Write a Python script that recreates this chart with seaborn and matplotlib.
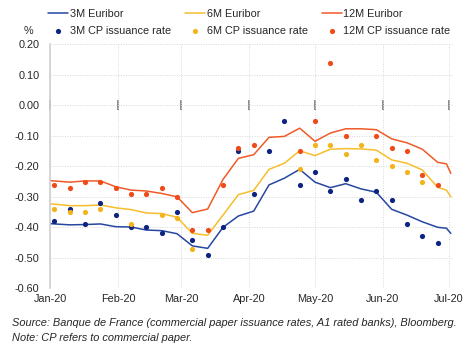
import matplotlib
matplotlib.use("Agg")
import matplotlib.pyplot as plt
import matplotlib.dates as mdates
import numpy as np
import pandas as pd
import seaborn as sns

# ---------------- data ----------------
cp_dates = ["2020-01-03", "2020-01-10", "2020-01-17", "2020-01-24", "2020-01-31",
            "2020-02-07", "2020-02-14", "2020-02-21", "2020-02-28", "2020-03-06",
            "2020-03-13", "2020-03-20", "2020-03-27", "2020-04-03", "2020-04-10",
            "2020-04-17", "2020-04-24", "2020-05-01", "2020-05-08", "2020-05-15",
            "2020-05-22", "2020-05-29", "2020-06-05", "2020-06-12", "2020-06-19",
            "2020-06-26"]

line_dates = ["2020-01-01", "2020-01-10", "2020-01-17", "2020-01-24", "2020-01-31",
              "2020-02-07", "2020-02-14", "2020-02-21", "2020-02-28", "2020-03-06",
              "2020-03-13", "2020-03-20", "2020-03-27", "2020-04-03", "2020-04-10",
              "2020-04-17", "2020-04-24", "2020-05-01", "2020-05-08", "2020-05-15",
              "2020-05-22", "2020-05-29", "2020-06-05", "2020-06-12", "2020-06-19",
              "2020-06-26", "2020-06-30", "2020-07-02"]

euribor_3m = [-0.388, -0.392, -0.391, -0.389, -0.398, -0.399, -0.409, -0.411, -0.421, -0.461,
              -0.469, -0.400, -0.363, -0.347, -0.261, -0.239, -0.210, -0.252, -0.270, -0.257,
              -0.274, -0.285, -0.341, -0.360, -0.382, -0.400, -0.403, -0.420]
euribor_6m = [-0.323, -0.329, -0.329, -0.327, -0.336, -0.342, -0.353, -0.355, -0.367, -0.420,
              -0.426, -0.360, -0.293, -0.279, -0.210, -0.190, -0.149, -0.165, -0.144, -0.142,
              -0.143, -0.147, -0.179, -0.190, -0.212, -0.269, -0.278, -0.300]
euribor_12m = [-0.247, -0.252, -0.248, -0.248, -0.267, -0.278, -0.281, -0.289, -0.300, -0.352,
               -0.340, -0.243, -0.174, -0.162, -0.105, -0.102, -0.075, -0.118, -0.091, -0.077,
               -0.077, -0.080, -0.110, -0.123, -0.144, -0.187, -0.192, -0.223]

nan = np.nan
cp_3m = [-0.38, -0.34, -0.39, -0.32, -0.36, -0.40, -0.40, -0.42, -0.35, -0.44,
         -0.49, -0.40, -0.15, -0.29, -0.15, -0.05, -0.26, -0.22, -0.28, -0.24,
         -0.31, -0.28, -0.31, -0.39, -0.43, -0.45]
cp_6m = [-0.34, -0.35, -0.35, -0.34, nan, -0.39, nan, -0.36, -0.37, -0.47,
         nan, nan, nan, nan, nan, nan, -0.21, -0.13, -0.13, -0.16,
         -0.13, -0.18, -0.20, -0.22, -0.25, nan]
cp_12m = [-0.26, -0.27, -0.25, -0.25, -0.27, -0.29, -0.29, -0.27, -0.30, -0.41,
          -0.41, -0.26, -0.14, -0.13, nan, nan, -0.15, -0.05, 0.14, -0.10,
          nan, -0.10, -0.14, -0.15, -0.23, -0.26]

month_ticks = ["2020-01-01", "2020-02-01", "2020-03-01", "2020-04-01",
               "2020-05-01", "2020-06-01", "2020-07-01"]
month_labels = ["Jan-20", "Feb-20", "Mar-20", "Apr-20", "May-20", "Jun-20", "Jul-20"]
y_ticks = [0.20, 0.10, 0.00, -0.10, -0.20, -0.30, -0.40, -0.50, -0.60]

line_names = ["3M Euribor", "6M Euribor", "12M Euribor"]
dot_names = ["3M CP issuance rate", "6M CP issuance rate", "12M CP issuance rate"]
line_colors = ["#2747a0", "#f7bd2c", "#f05a28"]
dot_colors = ["#0d2382", "#f2b31b", "#f04a17"]

# ---------------- style ----------------
sns.set_style("white")
plt.rcParams["font.family"] = ["Liberation Sans", "DejaVu Sans"]
FS = 7.8

fig = plt.figure(figsize=(4.74, 3.48), dpi=100)
ax = fig.add_axes([50 / 474, 1 - 288.3 / 348, (453 - 50) / 474, (288.3 - 44.3) / 348])

ld = pd.to_datetime(line_dates)
cd = pd.to_datetime(cp_dates)

for vals, name, col in zip([euribor_3m, euribor_6m, euribor_12m], line_names, line_colors):
    df = pd.DataFrame({"date": ld, "value": vals})
    sns.lineplot(data=df, x="date", y="value", ax=ax, color=col, linewidth=1.1,
                 label=name, zorder=2)

for vals, name, col in zip([cp_3m, cp_6m, cp_12m], dot_names, dot_colors):
    df = pd.DataFrame({"date": cd, "value": vals}).dropna()
    sns.scatterplot(data=df, x="date", y="value", ax=ax, color=col, s=14,
                    linewidth=0, label=name, zorder=3)

handles, labels = ax.get_legend_handles_labels()
ax.get_legend().remove()
hmap = dict(zip(labels, handles))
order = [line_names[0], dot_names[0], line_names[1], dot_names[1], line_names[2], dot_names[2]]

leg = fig.legend([hmap[k] for k in order], order, ncol=3, loc="upper left",
                 bbox_to_anchor=(48 / 474, 1 - 9 / 348), frameon=False, fontsize=FS,
                 handlelength=1.85, handletextpad=0.15, columnspacing=1.3,
                 labelspacing=0.62, borderpad=0, borderaxespad=0)

# axes limits & ticks
xt = pd.to_datetime(month_ticks)
ax.set_xlim(pd.Timestamp("2020-01-01"), pd.Timestamp("2020-07-03"))
ax.set_ylim(-0.60, 0.20)
ax.set_xticks(xt)
ax.set_xticklabels(month_labels, fontsize=FS)
ax.set_yticks(y_ticks)
ax.set_yticklabels([f"{v:.2f}" for v in y_ticks], fontsize=FS)
ax.tick_params(axis="both", length=0)
ax.tick_params(axis="y", pad=7.5)
ax.tick_params(axis="x", pad=4)
ax.set_xlabel("")
ax.set_ylabel("")

ax.grid(True, linestyle=(0, (1, 1.5)), color="#d8d8d8", linewidth=0.7)
for s in ["top", "right", "bottom"]:
    ax.spines[s].set_visible(False)
ax.spines["left"].set_color("#d0d0d0")
ax.spines["left"].set_linewidth(1.2)

# zero axis line with month ticks
sec = ax.secondary_xaxis(0.75)
sec.set_xticks(mdates.date2num(xt))
sec.tick_params(axis="x", direction="inout", length=7, width=1.2, color="#7a7a7a",
                labelbottom=False, labeltop=False)
sec.spines["bottom"].set_color("#7a7a7a")
sec.spines["bottom"].set_linewidth(1.3)
sec.spines["top"].set_visible(False)

fig.text(28 / 474, 1 - 31 / 348, "%", fontsize=FS, ha="center", va="center")

fig.text(12 / 474, 1 - 323 / 348,
         "Source: Banque de France (commercial paper issuance rates, A1 rated banks), Bloomberg.",
         fontsize=7.9, style="italic", ha="left", va="center")
fig.text(12 / 474, 1 - 338 / 348, "Note: CP refers to commercial paper.",
         fontsize=7.9, style="italic", ha="left", va="center")

fig.savefig("out.png", dpi=100)
